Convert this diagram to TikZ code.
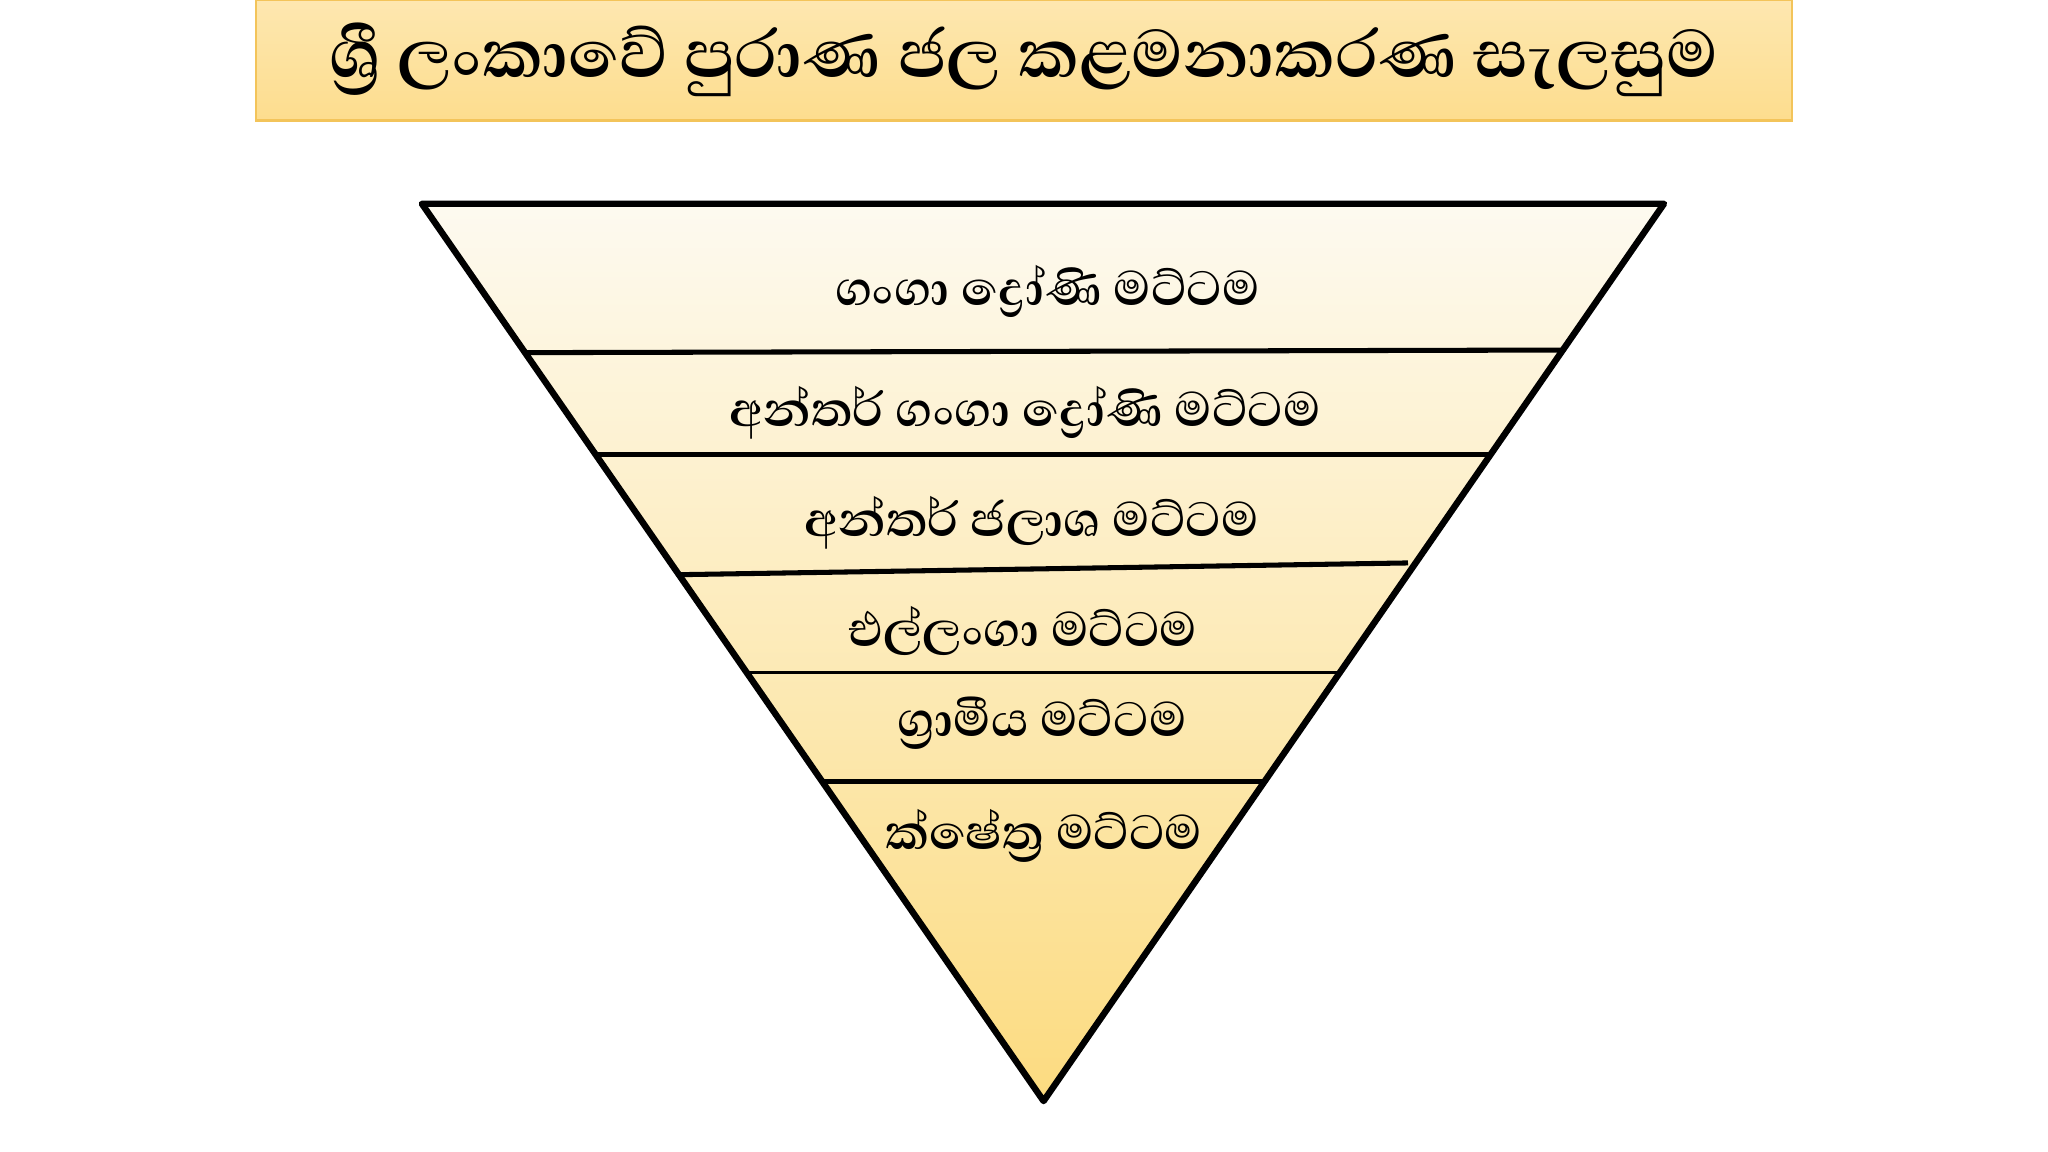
\documentclass[tikz,border=0pt]{standalone}
\usepackage{fontspec}
\newfontfamily\sinhfont[Script=Sinhala]{Abhaya Libre}
\definecolor{bannerfill}{HTML}{FDDD8E}
\definecolor{bannerline}{HTML}{F3C45A}
\definecolor{toppale}{HTML}{FDFAF0}
\definecolor{botgold}{HTML}{FCDB80}
\tikzset{
  lvl/.style={font=\sinhfont\fontsize{13.5}{16}\selectfont\bfseries, text=black},
  divider/.style={line width=1.1pt, black},
}
\begin{document}
\begin{tikzpicture}[x=0.01cm,y=-0.01cm]
\useasboundingbox[fill=white] (0,0) rectangle (1568,882);
\shade[top color=bannerfill!70!white, bottom color=bannerfill, draw=bannerline, line width=0.6pt] (196,0) rectangle (1372,92);
\node[font=\sinhfont\fontsize{18.7}{22}\selectfont\bfseries] (title) at (784,46) {ශ්‍රී ලංකාවේ පුරාණ ජල කළමනාකරණ සැලසුම};
\shade[top color=toppale, bottom color=botgold] (323,156) -- (1274,156) -- (799,843) -- cycle;
\draw[divider] (401,270) -- (1196,268);
\draw[divider] (456,348) -- (1141,348);
\draw[divider] (520,440) -- (1078,431);
\draw[line width=0.8pt] (572,515) -- (1025,515);
\draw[divider] (629,598) -- (968,598);
\draw[line width=1.4pt, line join=round] (323,156) -- (1274,156) -- (799,843) -- cycle;
\node[lvl] (l1) at (802,223) {ගංගා ද්‍රෝණි මට්ටම};
\node[lvl] (l2) at (785,316) {අන්තර් ගංගා ද්‍රෝණි මට්ටම};
\node[lvl] (l3) at (790,400) {අන්තර් ජලාශ මට්ටම};
\node[lvl] (l4) at (783,483) {එල්ලංගා මට්ටම};
\node[lvl] (l5) at (798,554) {ග්‍රාමීය මට්ටම};
\node[lvl] (l6) at (799,640) {ක්ෂේත්‍ර මට්ටම};
\end{tikzpicture}
\end{document}
